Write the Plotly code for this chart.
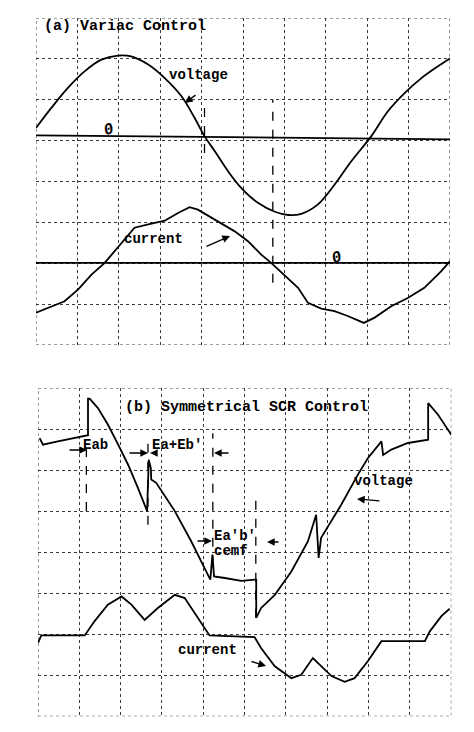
import plotly.graph_objects as go

W, H = 474, 732

# ---------------- data (oscilloscope divisions: x 0..10, y -4..4) ----------------
# (a) Variac control
a_volt_x = [0, 0.37, 0.77, 1.18, 1.58, 1.98, 2.30, 2.71, 3.11, 3.51, 3.83, 4.07, 4.32, 4.64,
            4.96, 5.36, 5.77, 6.09, 6.41, 6.81, 7.21, 7.62, 8.10, 8.50, 8.91, 9.31, 9.71, 10.0]
a_volt_y = [1.31, 1.80, 2.29, 2.70, 2.98, 3.08, 3.06, 2.86, 2.53, 2.09, 1.56, 1.11, 0.74, 0.25,
            -0.16, -0.52, -0.74, -0.82, -0.79, -0.56, -0.08, 0.50, 1.11, 1.72, 2.17, 2.53, 2.82, 3.01]

a_curr_x = [0, 0.37, 0.69, 1.02, 1.34, 1.66, 1.98, 2.38, 2.71, 3.11, 3.43, 3.71, 3.91, 4.32,
            4.80, 5.12, 5.44, 5.68, 6.00, 6.33, 6.57, 6.89, 7.21, 7.53, 7.92, 8.18, 8.58, 8.98,
            9.38, 9.79, 10.0]
a_curr_y = [-3.21, -3.05, -2.93, -2.64, -2.28, -1.99, -1.62, -1.13, -1.05, -0.96, -0.77, -0.63,
            -0.69, -0.93, -1.22, -1.46, -1.79, -1.99, -2.28, -2.60, -2.97, -3.11, -3.17, -3.29,
            -3.46, -3.33, -3.05, -2.85, -2.60, -2.19, -1.95]

a_volt_zero = 1.08
a_curr_zero = -1.99
a_dash_x = [4.07, 5.72]
a_dash_y0 = [0.70, -2.48]
a_dash_y1 = [1.88, 2.00]

# (b) Symmetrical SCR control
b_volt_x = [0.04, 0.12, 0.48, 0.89, 1.17, 1.21, 1.21, 1.25, 1.45, 1.69, 1.94, 2.18, 2.42, 2.64,
            2.68, 2.73, 2.74, 2.86, 3.31, 3.71, 4.03, 4.11, 4.17, 4.22, 4.26, 4.52, 4.92, 5.24,
            5.28, 5.28, 5.40, 5.73, 6.13, 6.53, 6.73, 6.79, 6.85, 7.34, 7.74, 7.98, 8.23, 8.31,
            8.35, 8.55, 8.95, 9.40, 9.44, 9.44, 9.68, 10.0]
b_volt_y = [2.78, 2.62, 2.70, 2.78, 2.85, 2.85, 3.74, 3.74, 3.51, 3.11, 2.62, 2.13, 1.56, 1.00,
            2.25, 2.05, 1.77, 1.69, 1.00, 0.26, -0.39, -0.55, -0.67, -0.06, -0.59, -0.63, -0.70,
            -0.67, -0.67, -1.60, -1.36, -1.04, -0.47, 0.26, 0.91, -0.14, 0.35, 1.16, 1.89, 2.29,
            2.62, 2.70, 2.37, 2.50, 2.66, 2.74, 2.74, 3.63, 3.35, 2.86]

b_curr_x = [0, 0.08, 1.13, 1.37, 1.69, 2.02, 2.26, 2.58, 2.90, 3.31, 3.55, 3.87, 4.15, 5.24,
            5.40, 5.73, 6.13, 6.37, 6.65, 6.77, 7.10, 7.42, 7.66, 7.98, 8.31, 9.36, 9.48, 9.76, 9.96]
b_curr_y = [-2.21, -2.03, -2.03, -1.68, -1.28, -1.08, -1.28, -1.65, -1.36, -1.04, -1.12, -1.60,
            -2.03, -2.07, -2.34, -2.78, -3.07, -2.99, -2.58, -2.70, -3.02, -3.16, -3.07, -2.66,
            -2.17, -2.17, -1.93, -1.56, -1.38]

b_dash_x = [1.17, 2.66, 4.23, 5.27]
b_dash_y0 = [1.00, 0.67, -0.31, -1.60]
b_dash_y1 = [2.58, 2.86, 2.90, 1.44]

# ---------------- figure ----------------
def px(x):
    return x / W

def py(y):
    return 1 - y / H

FONT = "Liberation Mono"
LINE = dict(color="black", width=1.8)
GRIDC = "#3a3a3a"

fig = go.Figure()
fig.add_trace(go.Scatter(x=a_volt_x, y=a_volt_y, mode="lines", line=LINE, xaxis="x", yaxis="y",
                         line_shape="spline", showlegend=False, hoverinfo="skip"))
fig.add_trace(go.Scatter(x=a_curr_x, y=a_curr_y, mode="lines", line=LINE, xaxis="x", yaxis="y",
                         showlegend=False, hoverinfo="skip"))
fig.add_trace(go.Scatter(x=b_volt_x, y=b_volt_y, mode="lines", line=LINE, xaxis="x2", yaxis="y2",
                         showlegend=False, hoverinfo="skip"))
fig.add_trace(go.Scatter(x=b_curr_x, y=b_curr_y, mode="lines", line=LINE, xaxis="x2", yaxis="y2",
                         showlegend=False, hoverinfo="skip"))

grid = dict(showgrid=True, gridcolor=GRIDC, gridwidth=1, griddash="dot", dtick=1,
            showticklabels=False, ticks="", zeroline=False, showline=False, fixedrange=True)

fig.update_layout(
    width=W, height=H, margin=dict(l=0, r=0, t=0, b=0),
    paper_bgcolor="white", plot_bgcolor="white",
    xaxis=dict(domain=[28 / W, 442 / W], range=[0, 10], anchor="y", **grid),
    yaxis=dict(domain=[py(337), py(10)], range=[-4, 4], anchor="x", **grid),
    xaxis2=dict(domain=[30 / W, 443.3 / W], range=[0, 10], anchor="y2", **grid),
    yaxis2=dict(domain=[py(708.3), py(380)], range=[-4, 4], anchor="x2", **grid),
    showlegend=False,
)

shapes = []
# dotted graticule borders
for xr, yr in (("x", "y"), ("x2", "y2")):
    shapes.append(dict(type="rect", xref=xr, yref=yr, x0=0, x1=10, y0=-4, y1=4,
                       line=dict(color=GRIDC, width=1, dash="dot"), layer="below"))
# zero reference lines in (a)
shapes.append(dict(type="line", xref="x", yref="y", x0=0, x1=10.1, y0=a_volt_zero + 0.05,
                   y1=a_volt_zero - 0.05, line=dict(color="black", width=1.8)))
shapes.append(dict(type="line", xref="x", yref="y", x0=0, x1=10.1, y0=a_curr_zero,
                   y1=a_curr_zero, line=dict(color="black", width=1.8)))
for xv, y0, y1 in zip(a_dash_x, a_dash_y0, a_dash_y1):
    shapes.append(dict(type="line", xref="x", yref="y", x0=xv, x1=xv, y0=y0, y1=y1,
                       line=dict(color="black", width=1.3, dash="dash")))
for xv, y0, y1 in zip(b_dash_x, b_dash_y0, b_dash_y1):
    shapes.append(dict(type="line", xref="x2", yref="y2", x0=xv, x1=xv, y0=y0, y1=y1,
                       line=dict(color="black", width=1.3, dash="dash")))
fig.update_layout(shapes=shapes)

DX, DY = -9, -6  # annotation box offset correction

def text(s, x, y, size=15, anchor="left", angle=0):
    fig.add_annotation(text=s, x=px(x + DX), y=py(y + DY), xref="paper", yref="paper",
                       showarrow=False, xanchor=anchor, yanchor="middle", textangle=angle,
                       font=dict(family=FONT, size=size, color="black", weight="bold"))

def arrow(x_tail, y_tail, x_head, y_head):
    fig.add_annotation(text="", x=px(x_head), y=py(y_head), xref="paper", yref="paper",
                       ax=x_tail - x_head, ay=y_tail - y_head, axref="pixel", ayref="pixel",
                       showarrow=True, arrowhead=2, arrowsize=1.1, arrowwidth=1.4,
                       arrowcolor="black")

# (a) labels
text("(a) Variac Control", 43, 25)
text("voltage", 168, 73, size=14)
arrow(189, 86, 177, 95)
text("current", 123, 237, size=14)
arrow(197, 239, 222, 228)
text("<i>0</i>", 110, 128, size=16, anchor="center", angle=-20)
text("<i>0</i>", 338, 256, size=16, anchor="center", angle=-20)

# (b) labels
text("(b) Symmetrical SCR Control", 124, 405)
arrow(60, 442, 79, 442)
text("Eab", 82, 443, size=14)
arrow(120, 445, 140, 445)
arrow(150, 445, 142, 445)
text("Ea+Eb'", 151, 443, size=14)
arrow(222, 445, 206, 445)
arrow(188, 533, 204, 533)
text("Ea'b'", 213, 534, size=14)
text("cemf", 213, 549, size=14)
arrow(272, 534, 259, 534)
text("voltage", 353, 479, size=14)
arrow(373, 493, 349, 491)
text("current", 177, 648, size=14)
arrow(242, 653, 258, 658)

fig.write_html("out.html")
